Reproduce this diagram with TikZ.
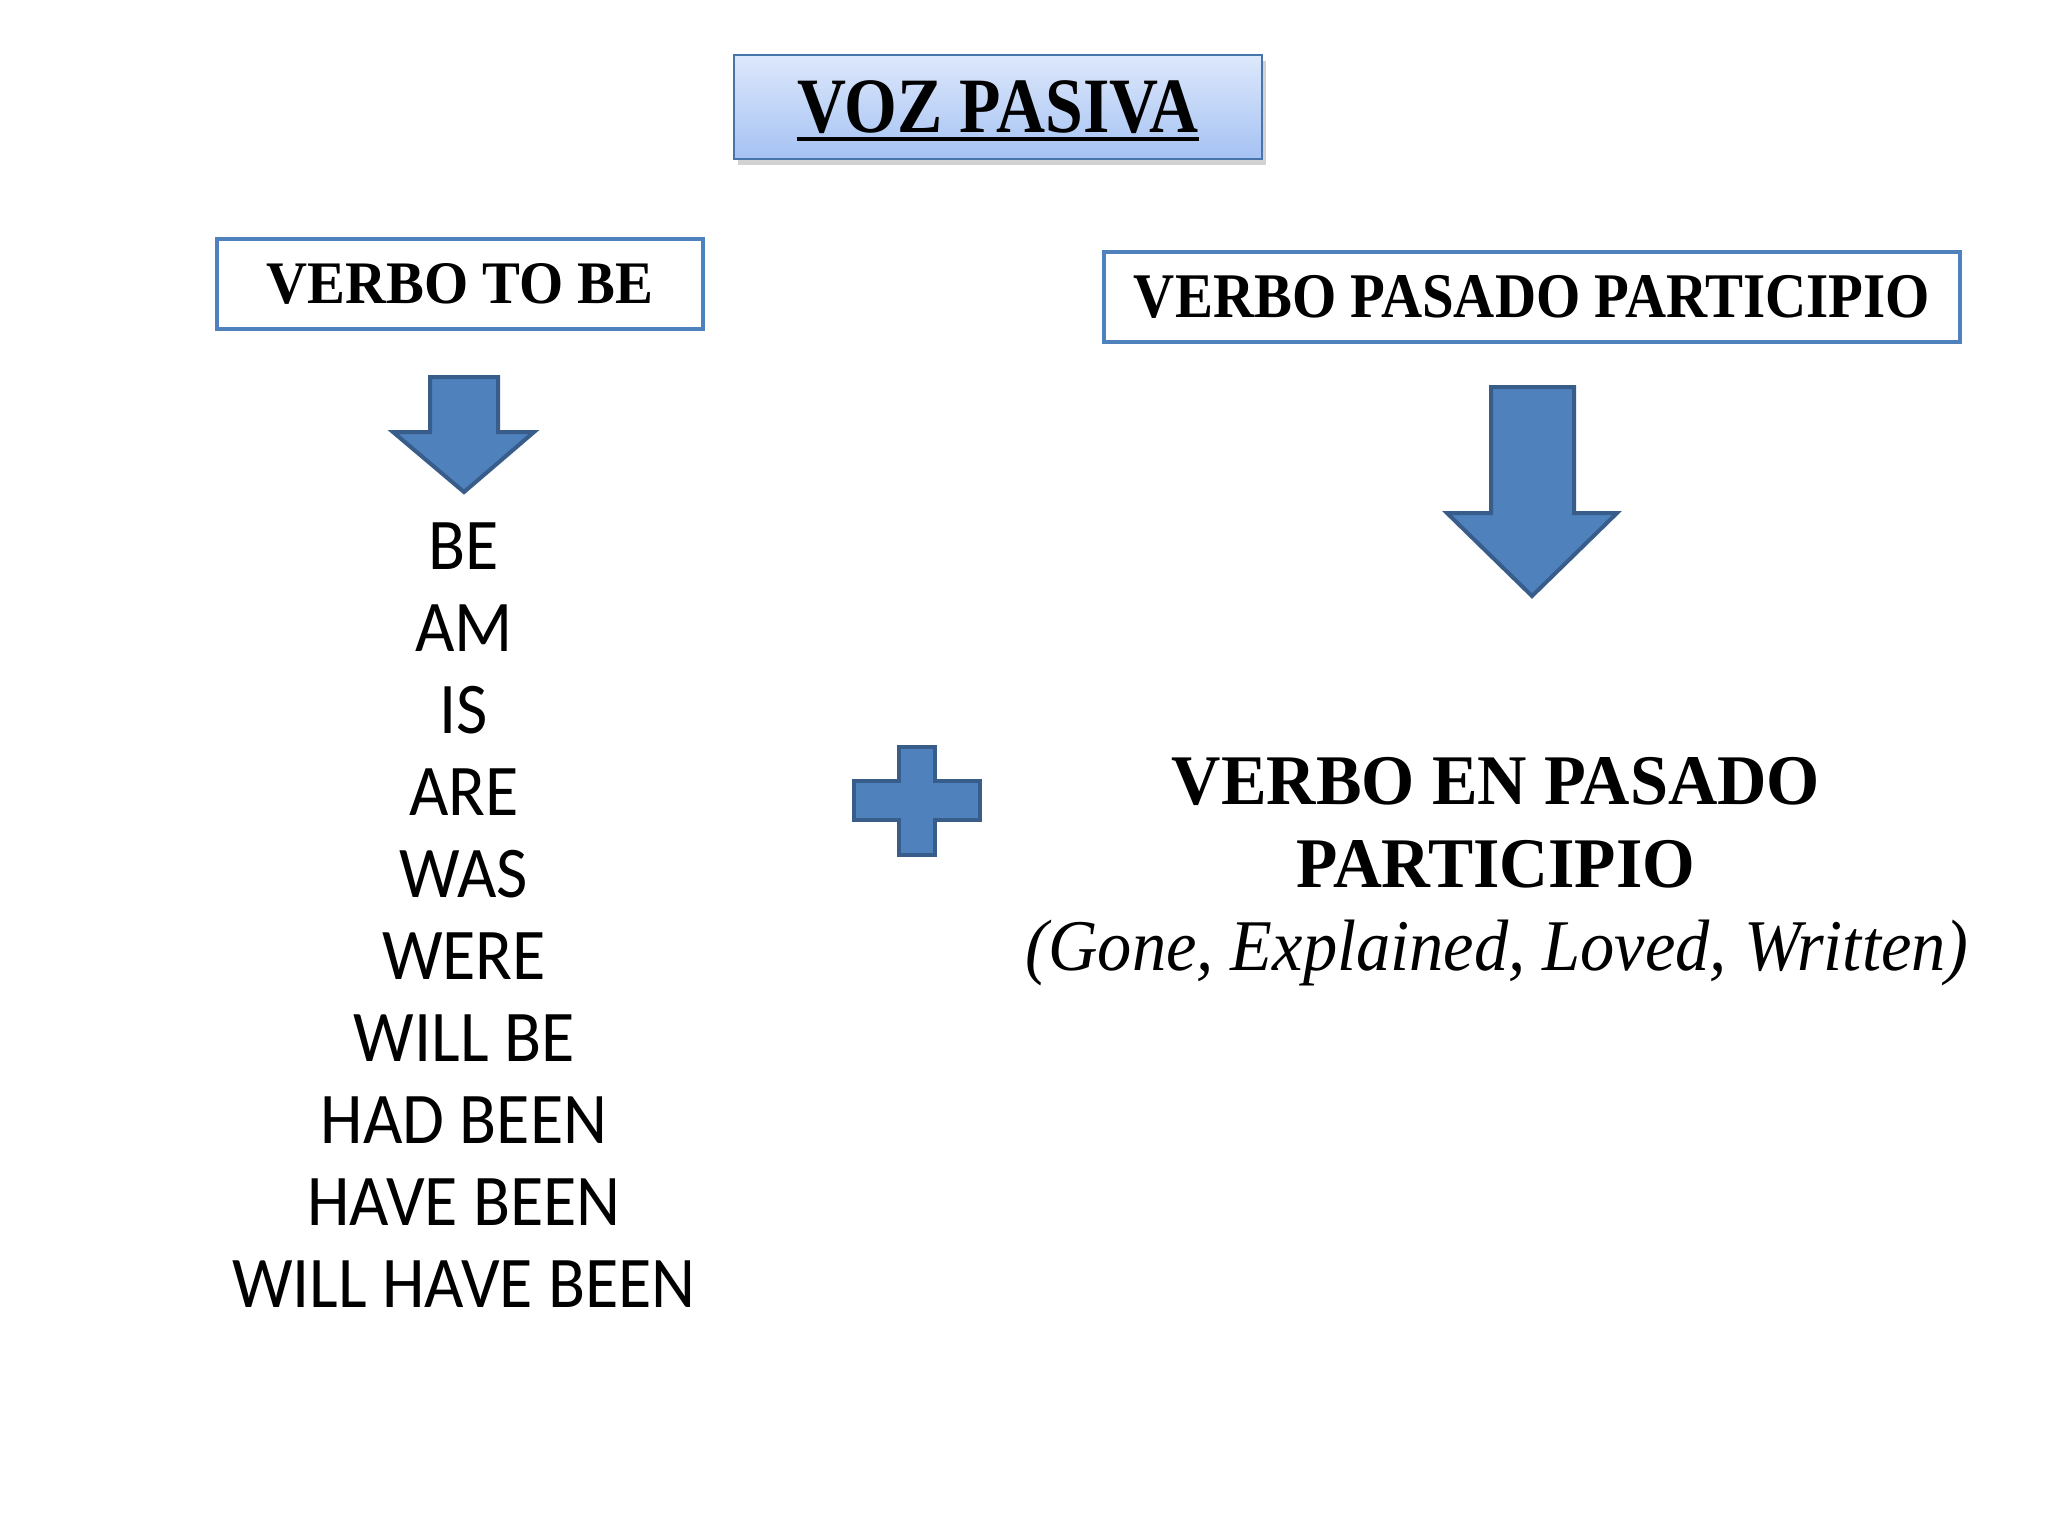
\documentclass[tikz,border=0pt]{standalone}
\usepackage{graphicx}
\usepackage{fontspec}
\setmainfont{Liberation Serif}
\newfontfamily\calfont{Carlito}
\usetikzlibrary{positioning, shadows}

\definecolor{boxblue}{HTML}{4F81BD}
\definecolor{edgeblue}{HTML}{385D8A}
\definecolor{topgrad}{HTML}{DDE8FB}
\definecolor{botgrad}{HTML}{A5C2F3}

\newcommand{\squeeze}[2]{\scalebox{#1}[1]{#2}}

\begin{document}
\begin{tikzpicture}[x=0.25pt, y=-0.25pt,
    titlebox/.style={draw=boxblue!90!black, line width=0.5pt, top color=topgrad, bottom color=botgrad,
        minimum width=132pt, minimum height=26pt,
        drop shadow={shadow xshift=1pt, shadow yshift=-1.5pt, opacity=0.35}},
    headbox/.style={draw=boxblue, line width=1pt, fill=white, inner sep=0pt, minimum height=22.5pt},
    blockshape/.style={fill=boxblue, draw=edgeblue, line width=1pt, line join=miter},
    beform/.style={anchor=base, inner sep=0pt, font=\calfont\fontsize{18.2}{22}\selectfont},
    ppline/.style={anchor=base, inner sep=0pt, font=\bfseries\fontsize{17.8}{21}\selectfont}]

    \useasboundingbox[fill=white] (0,0) rectangle (2048,1536);

    % title
    \node[titlebox] (vozbox) at (998,107) {};
    \node[inner sep=0pt, font=\bfseries\fontsize{19.6}{23}\selectfont] (voz) at (vozbox) {\squeeze{0.865}{VOZ PASIVA}};
    \draw[line width=1pt] ([yshift=-1.2pt]voz.south west) -- ([yshift=-1.2pt]voz.south east);

    % headers
    \node[headbox, minimum width=121.5pt, font=\bfseries\fontsize{15.1}{18}\selectfont] (tobe) at (460,284) {\squeeze{0.94}{VERBO TO BE}};
    \node[headbox, minimum width=214pt, font=\bfseries\fontsize{15.9}{19}\selectfont] (ppbox) at (1532,297) {\squeeze{0.895}{VERBO PASADO PARTICIPIO}};

    % block arrows and plus
    \draw[blockshape] (430,377) -- (498,377) -- (498,432) -- (534,432) -- (464,492) -- (393,432) -- (430,432) -- cycle;
    \draw[blockshape] (1491,387) -- (1574,387) -- (1574,513) -- (1617,513) -- (1532,596) -- (1447,513) -- (1491,513) -- cycle;
    \draw[blockshape] (899,747) -- (935,747) -- (935,781) -- (980,781) -- (980,820) -- (935,820)
        -- (935,855) -- (899,855) -- (899,820) -- (854,820) -- (854,781) -- (899,781) -- cycle;

    % forms of to be
    \foreach \form [count=\i from 0] in {BE, AM, IS, ARE, WAS, WERE, WILL BE, HAD BEEN, HAVE BEEN, WILL HAVE BEEN}
        \node[beform] (be\i) at (464,569+82*\i) {\squeeze{0.935}{\form}};

    % participle
    \node[ppline] (pp1) at (1496,804) {\squeeze{0.96}{VERBO EN PASADO}};
    \node[ppline] (pp2) at (1496,887) {\squeeze{0.95}{PARTICIPIO}};
    \node[anchor=base, inner sep=0pt, font=\itshape\fontsize{18.2}{22}\selectfont] (ppex) at (1497,970)
        {\squeeze{0.94}{(Gone, Explained, Loved, Written)}};
\end{tikzpicture}
\end{document}
